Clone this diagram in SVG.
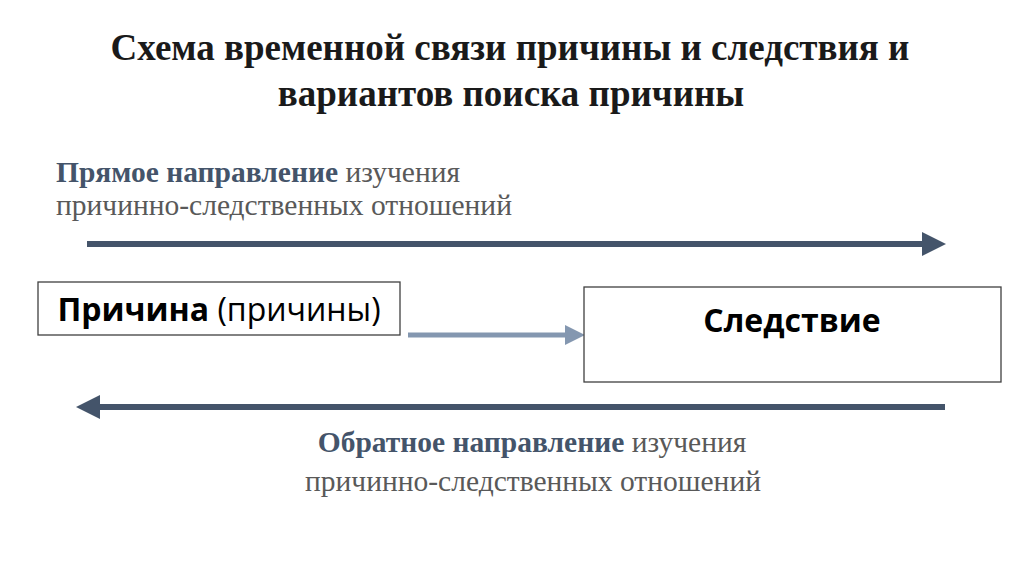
<svg xmlns="http://www.w3.org/2000/svg" width="1024" height="574" viewBox="0 0 1024 574">
<style>
.t{font-family:"Liberation Serif",serif;font-weight:bold;font-size:37px;fill:#1a1a1a;text-anchor:middle}
.s{font-family:"Liberation Serif",serif;font-size:29.5px;fill:#595959}
.b{font-weight:bold;fill:#44546A}
.box{fill:#fff;stroke:#404040;stroke-width:1.3}
.n{font-family:"Open Sans","Noto Sans",sans-serif;font-size:32px;fill:#000}
</style>
<defs>
<marker id="ad" markerWidth="4" markerHeight="4" refX="1" refY="2" orient="auto" markerUnits="strokeWidth"><path d="M0,0L4,2L0,4z" fill="#44546A"/></marker>
<marker id="al" markerWidth="4" markerHeight="4" refX="1" refY="2" orient="auto" markerUnits="strokeWidth"><path d="M0,0L4,2L0,4z" fill="#8497B0"/></marker>
</defs>
<rect width="1024" height="574" fill="#fff"/>
<text class="t" x="510" y="60">Схема временной связи причины и следствия и</text>
<text class="t" x="511" y="106">вариантов поиска причины</text>
<text class="s" x="56" y="182"><tspan class="b">Прямое направление</tspan> изучения</text>
<text class="s" x="56" y="215">причинно-следственных отношений</text>
<g id="connectors">
<line x1="87" y1="244" x2="928" y2="244" stroke="#44546A" stroke-width="6" marker-end="url(#ad)"/>
<line x1="408" y1="335" x2="570" y2="335" stroke="#8497B0" stroke-width="5" marker-end="url(#al)"/>
<line x1="945" y1="407" x2="94" y2="407" stroke="#44546A" stroke-width="6" marker-end="url(#ad)"/>
</g>
<g id="cause">
<rect class="box" x="38" y="282" width="362" height="53"/>
<text class="n" x="219" y="321" text-anchor="middle"><tspan font-weight="bold">Причина</tspan> (причины)</text>
</g>
<g id="effect">
<rect class="box" x="584" y="287" width="417" height="95"/>
<text class="n" x="792" y="332" text-anchor="middle" font-weight="bold" font-size="37">Следствие</text>
</g>
<text class="s" x="532" y="452" text-anchor="middle"><tspan class="b">Обратное направление</tspan> изучения</text>
<text class="s" x="533" y="491" text-anchor="middle">причинно-следственных отношений</text>
</svg>
